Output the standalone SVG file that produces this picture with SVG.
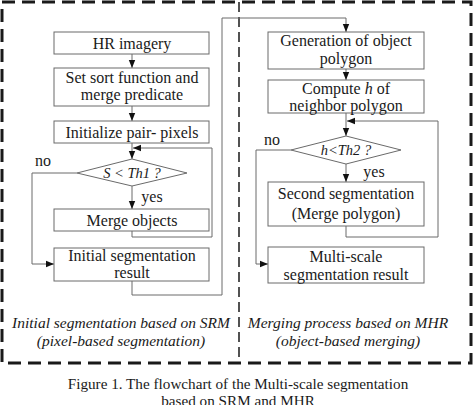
<svg xmlns="http://www.w3.org/2000/svg" width="474" height="405" viewBox="0 0 474 405">
<defs>
<marker id="ah" viewBox="0 0 8 8" refX="8" refY="4" markerWidth="8" markerHeight="8" markerUnits="userSpaceOnUse" orient="auto">
<path d="M0,0.8 L8,4 L0,7.2 Z" fill="#111"/>
</marker>
<style>
text{font-family:"Liberation Serif","Times New Roman",serif;font-size:16px;fill:#1a1a1a;text-anchor:middle}
.box{fill:#fff;stroke:#6a6a6a;stroke-width:1}
.it{font-style:italic}
.lab{font-size:15.5px}
.dia{font-size:14.5px}
.cap{font-size:15.2px}
.ar{fill:none;stroke:#6a6a6a;stroke-width:1;marker-end:url(#ah)}
</style>
</defs>
<rect width="474" height="405" fill="#fff"/>
<g id="frame">
<rect x="2" y="2" width="469" height="361" fill="none" stroke="#1a1a1a" stroke-width="3" stroke-dasharray="13,7"/>
<line x1="239" y1="2" x2="239" y2="363" stroke="#1a1a1a" stroke-width="1.5" stroke-dasharray="10,5"/>
</g>
<g id="connectors">
<line class="ar" x1="132" y1="54" x2="132" y2="68"/>
<line class="ar" x1="132" y1="106" x2="132" y2="121"/>
<line class="ar" x1="132" y1="143" x2="132" y2="159"/>
<line class="ar" x1="132" y1="186" x2="132" y2="209"/>
<polyline class="ar" points="132,231 132,237 212,237 212,148 133,148"/>
<polyline class="ar" points="77,173 32,173 32,264 54,264"/>
<polyline class="ar" points="132,281 132,295 222,295 222,18 346,18 346,32"/>
<line class="ar" x1="346" y1="69" x2="346" y2="80"/>
<line class="ar" x1="346" y1="113" x2="346" y2="136"/>
<line class="ar" x1="346" y1="164" x2="346" y2="182"/>
<polyline class="ar" points="346,226 346,237 438,237 438,121 347,121"/>
<polyline class="ar" points="291,150 256,150 256,264 268,264"/>
</g>
<g id="hr"><rect class="box" x="54" y="32" width="155" height="22"/><text x="132" y="48.5">HR imagery</text></g>
<g id="sort"><rect class="box" x="54" y="68" width="155" height="38"/><text x="132" y="83">Set sort function and</text><text x="132" y="100">merge predicate</text></g>
<g id="init"><rect class="box" x="54" y="121" width="155" height="22"/><text x="132" y="137.5">Initialize pair- pixels</text></g>
<g id="d1"><polygon class="box" points="132,159 187,173 132,186 77,173"/><text class="it dia" x="132" y="178">S &lt; Th1 ?</text></g>
<text x="43" y="166">no</text>
<text x="152" y="202">yes</text>
<g id="merge"><rect class="box" x="54" y="209" width="155" height="22"/><text x="132" y="225.5">Merge objects</text></g>
<g id="initres"><rect class="box" x="54" y="248" width="155" height="33"/><text x="132" y="261">Initial segmentation</text><text x="132" y="278">result</text></g>
<g id="gen"><rect class="box" x="268" y="32" width="156" height="37"/><text x="346" y="46">Generation of object</text><text x="346" y="64">polygon</text></g>
<g id="comp"><rect class="box" x="268" y="80" width="156" height="33"/><text x="346" y="94">Compute <tspan font-style="italic">h</tspan> of</text><text x="346" y="111">neighbor polygon</text></g>
<g id="d2"><polygon class="box" points="346,136 401,150 346,164 291,150"/><text class="it dia" x="346" y="155">h&lt;Th2 ?</text></g>
<text x="272" y="145">no</text>
<text x="374" y="177">yes</text>
<g id="second"><rect class="box" x="268" y="182" width="156" height="44"/><text x="346" y="199">Second segmentation</text><text x="346" y="219">(Merge polygon)</text></g>
<g id="multi"><rect class="box" x="268" y="247" width="156" height="36"/><text x="346" y="262">Multi-scale</text><text x="346" y="280">segmentation result</text></g>
<g id="labels">
<text class="it lab" x="121" y="328">Initial segmentation based on SRM</text>
<text class="it lab" x="121" y="346">(pixel-based segmentation)</text>
<text class="it lab" x="348" y="328">Merging process based on MHR</text>
<text class="it lab" x="348" y="346">(object-based merging)</text>
</g>
<g id="caption">
<text class="cap" x="238" y="389">Figure 1. The flowchart of the Multi-scale segmentation</text>
<text class="cap" x="238" y="406">based on SRM and MHR</text>
</g>
</svg>
